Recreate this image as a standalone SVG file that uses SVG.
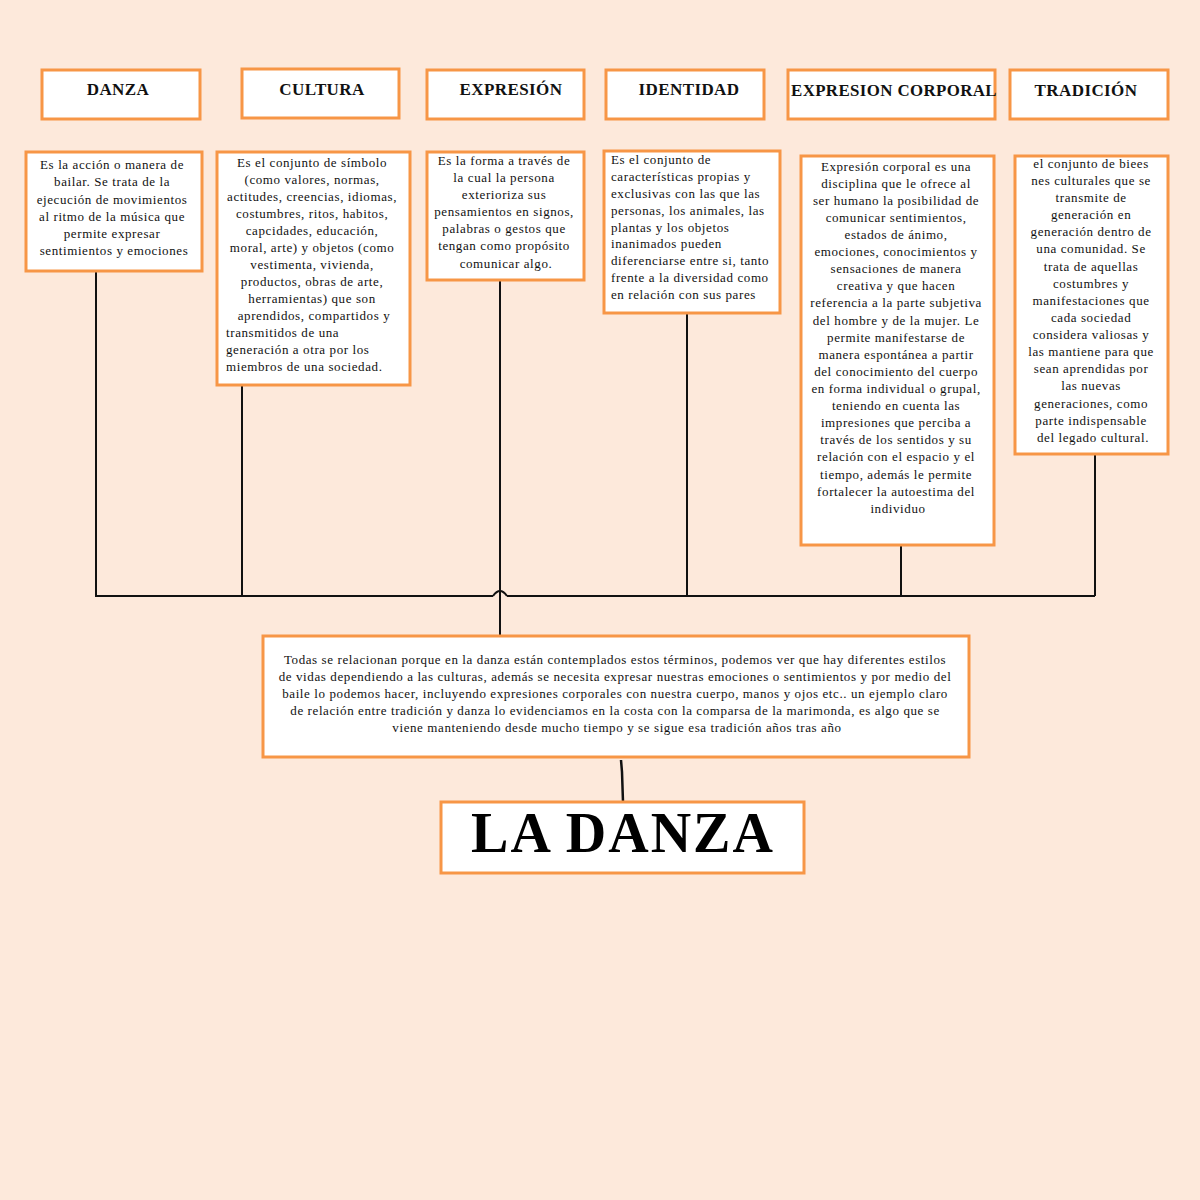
<svg xmlns="http://www.w3.org/2000/svg" width="1200" height="1200" viewBox="0 0 1200 1200">
<style>
.box{fill:#ffffff;stroke:#f79646;stroke-width:3}
.h{font-family:"Liberation Serif",serif;font-weight:bold;font-size:17px;fill:#111;text-anchor:middle;letter-spacing:0.4px}
.t{font-family:"Liberation Serif",serif;font-size:13px;fill:#111;letter-spacing:0.6px}
.c{text-anchor:middle}
.ln{stroke:#111;stroke-width:2;fill:none}
</style>
<rect width="1200" height="1200" fill="#fde9db"/>
<g id="connectors">
<path class="ln" d="M96 271V596H493M507 596H1095"/>
<path class="ln" d="M493 596Q500 586 507 596"/>
<path class="ln" d="M242 385V596"/>
<path class="ln" d="M484 280H500V635"/>
<path class="ln" d="M687 313V596"/>
<path class="ln" d="M901 545V596"/>
<path class="ln" d="M1095 454V596"/>
<path class="ln" style="stroke-width:2.5" d="M621 760L622 772L623 802"/>
</g>
<g id="h-danza"><rect class="box" x="42" y="70" width="158" height="49"/><text class="h" x="118" y="95">DANZA</text></g>
<g id="h-cultura"><rect class="box" x="242" y="69" width="157" height="49"/><text class="h" x="322" y="95">CULTURA</text></g>
<g id="h-expresion"><rect class="box" x="427" y="70" width="157" height="49"/><text class="h" x="511" y="95">EXPRESIÓN</text></g>
<g id="h-identidad"><rect class="box" x="606" y="70" width="158" height="49"/><text class="h" x="689" y="95">IDENTIDAD</text></g>
<g id="h-corporal"><rect class="box" x="788" y="70" width="207" height="49"/><text class="h" x="894" y="96" textLength="206" lengthAdjust="spacingAndGlyphs">EXPRESION CORPORAL</text></g>
<g id="h-tradicion"><rect class="box" x="1010" y="70" width="158" height="49"/><text class="h" x="1086" y="96">TRADICIÓN</text></g>

<g id="d-danza"><rect class="box" x="26" y="152" width="176" height="119"/>
<text class="t c">
<tspan x="114" y="169">Es la acción o manera de</tspan>
<tspan x="114" y="186">bailar. Se trata de la</tspan>
<tspan x="114" y="204">ejecución de movimientos</tspan>
<tspan x="114" y="221">al ritmo de la música que</tspan>
<tspan x="114" y="238">permite expresar</tspan>
<tspan x="114" y="255">sentimientos y emociones</tspan>
</text></g>

<g id="d-cultura"><rect class="box" x="217" y="152" width="193" height="233"/>
<text class="t c">
<tspan x="314" y="167">Es el conjunto de símbolo</tspan>
<tspan x="314" y="184">(como valores, normas,</tspan>
<tspan x="314" y="201">actitudes, creencias, idiomas,</tspan>
<tspan x="314" y="218">costumbres, ritos, habitos,</tspan>
<tspan x="314" y="235">capcidades, educación,</tspan>
<tspan x="314" y="252">moral,  arte) y objetos (como</tspan>
<tspan x="314" y="269">vestimenta, vivienda,</tspan>
<tspan x="314" y="286">productos, obras de arte,</tspan>
<tspan x="314" y="303">herramientas) que son</tspan>
<tspan x="314" y="320">aprendidos, compartidos y</tspan>
</text>
<text class="t">
<tspan x="226" y="337">transmitidos de una</tspan>
<tspan x="226" y="354">generación a otra por los</tspan>
<tspan x="226" y="371">miembros de una sociedad.</tspan>
</text></g>

<g id="d-expresion"><rect class="box" x="427" y="152" width="157" height="128"/>
<text class="t c">
<tspan x="506" y="165">Es la forma a través de</tspan>
<tspan x="506" y="182">la  cual la persona</tspan>
<tspan x="506" y="199">exterioriza sus</tspan>
<tspan x="506" y="216">pensamientos en signos,</tspan>
<tspan x="506" y="233">palabras o gestos que</tspan>
<tspan x="506" y="250">tengan como propósito</tspan>
<tspan x="506" y="268">comunicar algo.</tspan>
</text></g>

<g id="d-identidad"><rect class="box" x="604" y="151" width="176" height="162"/>
<text class="t">
<tspan x="611" y="164">Es el conjunto de</tspan>
<tspan x="611" y="181">características propias y</tspan>
<tspan x="611" y="198">exclusivas con las que las</tspan>
<tspan x="611" y="215">personas, los animales, las</tspan>
<tspan x="611" y="232">plantas y los objetos</tspan>
<tspan x="611" y="248">inanimados pueden</tspan>
<tspan x="611" y="265">diferenciarse entre si, tanto</tspan>
<tspan x="611" y="282">frente a la diversidad como</tspan>
<tspan x="611" y="299">en relación con sus pares</tspan>
</text></g>

<g id="d-corporal"><rect class="box" x="801" y="156" width="193" height="389"/>
<text class="t c">
<tspan x="898" y="171">Expresión corporal es una</tspan>
<tspan x="898" y="188">disciplina  que le  ofrece al</tspan>
<tspan x="898" y="205">ser humano la posibilidad de</tspan>
<tspan x="898" y="222">comunicar sentimientos,</tspan>
<tspan x="898" y="239">estados de ánimo,</tspan>
<tspan x="898" y="256">emociones, conocimientos y</tspan>
<tspan x="898" y="273">sensaciones de manera</tspan>
<tspan x="898" y="290">creativa y que hacen</tspan>
<tspan x="898" y="307">referencia a la parte  subjetiva</tspan>
<tspan x="898" y="325">del hombre y de la  mujer. Le</tspan>
<tspan x="898" y="342">permite  manifestarse de</tspan>
<tspan x="898" y="359">manera  espontánea a partir</tspan>
<tspan x="898" y="376">del  conocimiento del cuerpo</tspan>
<tspan x="898" y="393">en  forma individual o grupal,</tspan>
<tspan x="898" y="410">teniendo en cuenta las</tspan>
<tspan x="898" y="427">impresiones que perciba a</tspan>
<tspan x="898" y="444">través de los sentidos y su</tspan>
<tspan x="898" y="461">relación con el espacio y el</tspan>
<tspan x="898" y="479">tiempo, además le permite</tspan>
<tspan x="898" y="496">fortalecer la autoestima del</tspan>
<tspan x="898" y="513">individuo</tspan>
</text></g>

<g id="d-tradicion"><rect class="box" x="1015" y="156" width="153" height="298"/>
<text class="t c">
<tspan x="1093" y="168">el conjunto de biees</tspan>
<tspan x="1093" y="185">nes culturales que se</tspan>
<tspan x="1093" y="202">transmite de</tspan>
<tspan x="1093" y="219">generación en</tspan>
<tspan x="1093" y="236">generación dentro de</tspan>
<tspan x="1093" y="253">una comunidad.  Se</tspan>
<tspan x="1093" y="271">trata de aquellas</tspan>
<tspan x="1093" y="288">costumbres y</tspan>
<tspan x="1093" y="305">manifestaciones que</tspan>
<tspan x="1093" y="322">cada sociedad</tspan>
<tspan x="1093" y="339">considera valiosas y</tspan>
<tspan x="1093" y="356">las mantiene para  que</tspan>
<tspan x="1093" y="373">sean  aprendidas  por</tspan>
<tspan x="1093" y="390">las nuevas</tspan>
<tspan x="1093" y="408">generaciones, como</tspan>
<tspan x="1093" y="425">parte indispensable</tspan>
<tspan x="1093" y="442">del legado cultural.</tspan>
</text></g>

<g id="relacion"><rect class="box" x="263" y="636" width="706" height="121"/>
<text class="t c">
<tspan x="617" y="664">Todas se relacionan porque en la danza están contemplados estos términos, podemos ver que hay diferentes  estilos</tspan>
<tspan x="617" y="681">de vidas dependiendo a las culturas, además se necesita expresar nuestras emociones o sentimientos  y por medio del</tspan>
<tspan x="617" y="698">baile lo podemos hacer, incluyendo expresiones corporales con nuestra cuerpo, manos y ojos  etc.. un ejemplo claro</tspan>
<tspan x="617" y="715">de relación entre tradición y danza lo evidenciamos en la costa con la comparsa de la  marimonda, es algo que se</tspan>
<tspan x="617" y="732">viene manteniendo desde mucho tiempo y se sigue esa tradición años tras año</tspan>
</text></g>

<g id="la-danza"><rect class="box" x="441" y="802" width="363" height="71"/>
<text x="623" y="852" style="font-family:'Liberation Serif',serif;font-weight:bold;font-size:56px;fill:#000;text-anchor:middle;letter-spacing:2px">LA DANZA</text></g>
</svg>
